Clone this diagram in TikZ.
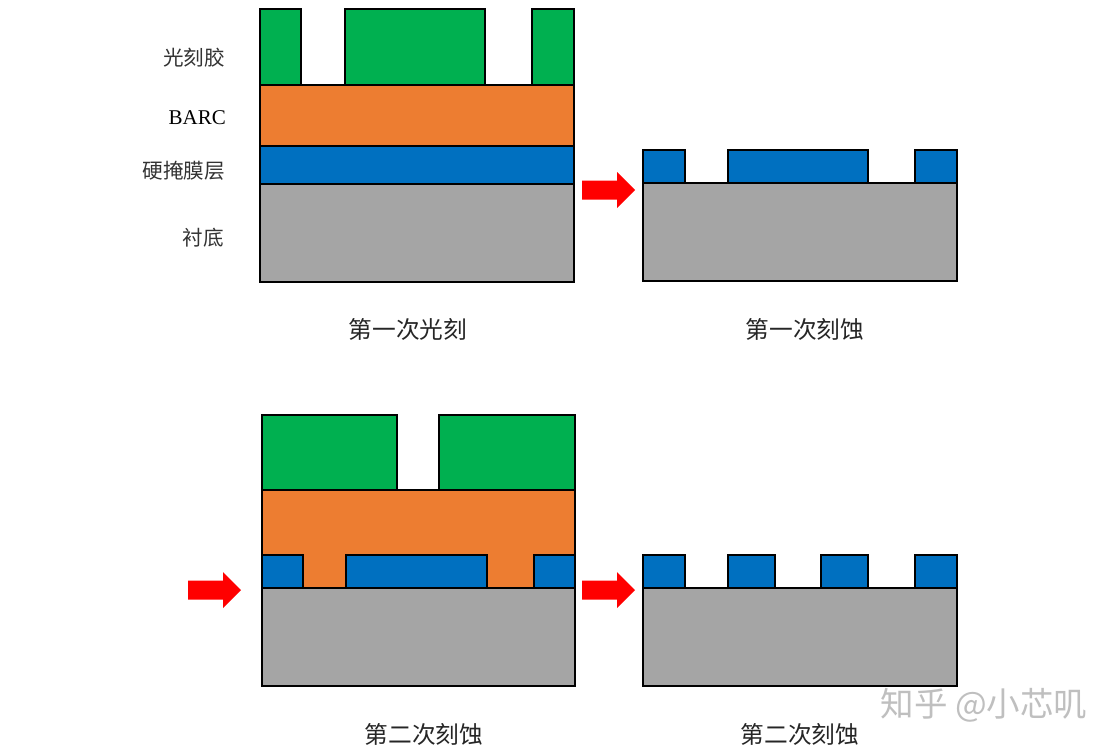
\documentclass[tikz,border=0pt]{standalone}
\usepackage{fontspec}
\setmainfont{Liberation Serif}
\newfontfamily\cjk{Noto Sans CJK SC}[Scale=1.0]
\begin{document}
\begin{tikzpicture}[x=1pt,y=-1pt,
  layer/.style={draw=black,line width=2.4pt,line join=miter},
  green/.style={layer,fill=resist},
  orange/.style={layer,fill=barc},
  blue/.style={layer,fill=hard},
  grey/.style={layer,fill=sub},
  redarrow/.style={fill=red,draw=none},
  sidelabel/.style={anchor=east,inner sep=0pt,text=black!80,font=\fontsize{20.6pt}{23pt}\selectfont\cjk},
  caption/.style={anchor=center,inner sep=0pt,text=black!85,font=\fontsize{23.7pt}{26pt}\selectfont\cjk}]
\definecolor{resist}{HTML}{00B050}
\definecolor{barc}{HTML}{ED7D31}
\definecolor{hard}{HTML}{0070C0}
\definecolor{sub}{HTML}{A5A5A5}
\useasboundingbox (0,0) rectangle (1116,753);
% panel 1
\draw[green] (260,9) rectangle (301,85);
\draw[green] (345,9) rectangle (485,85);
\draw[green] (532,9) rectangle (574,85);
\draw[orange] (260,85) rectangle (574,146);
\draw[blue] (260,146) rectangle (574,184);
\draw[grey] (260,184) rectangle (574,282);
% panel 2
\draw[blue] (643,150) rectangle (685,183);
\draw[blue] (728,150) rectangle (868,183);
\draw[blue] (915,150) rectangle (957,183);
\draw[grey] (643,183) rectangle (957,281);
% panel 3
\draw[green] (262,415) rectangle (397,490);
\draw[green] (439,415) rectangle (575,490);
\draw[orange] (262,490) -- (575,490) -- (575,555) -- (534,555) -- (534,588) -- (487,588) -- (487,555) -- (346,555) -- (346,588) -- (303,588) -- (303,555) -- (262,555) -- cycle;
\draw[blue] (262,555) rectangle (303,588);
\draw[blue] (346,555) rectangle (487,588);
\draw[blue] (534,555) rectangle (575,588);
\draw[grey] (262,588) rectangle (575,686);
% panel 4
\draw[blue] (643,555) rectangle (685,588);
\draw[blue] (728,555) rectangle (775,588);
\draw[blue] (821,555) rectangle (868,588);
\draw[blue] (915,555) rectangle (957,588);
\draw[grey] (643,588) rectangle (957,686);
% arrows
\foreach \ax/\ay in {582/190, 582/590, 188/590}{
  \fill[redarrow] (\ax,\ay-9.5) -- (\ax+35,\ay-9.5) -- (\ax+35,\ay-18) -- (\ax+53,\ay) -- (\ax+35,\ay+18) -- (\ax+35,\ay+9.5) -- (\ax,\ay+9.5) -- cycle;
}
% labels
\node[sidelabel] (l1) at (225,58) {光刻胶};
\node[sidelabel,text=black,font=\fontsize{21pt}{23pt}\selectfont] (l2) at (226,118) {BARC};
\node[sidelabel] (l3) at (225,171) {硬掩膜层};
\node[sidelabel] (l4) at (224,238) {衬底};
\node[caption] (c1) at (408,329) {第一次光刻};
\node[caption] (c2) at (805,329) {第一次刻蚀};
\node[caption] (c3) at (424,734) {第二次刻蚀};
\node[caption] (c4) at (800,734) {第二次刻蚀};
\node[anchor=center,inner sep=0pt,text=black!25,font=\fontsize{33.5pt}{36pt}\selectfont\cjk] (wm) at (984,705) {知乎 @小芯叽};
\end{tikzpicture}
\end{document}
